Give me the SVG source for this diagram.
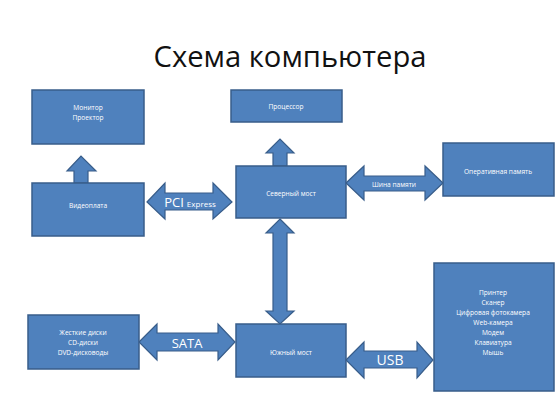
<svg xmlns="http://www.w3.org/2000/svg" width="560" height="420" viewBox="0 0 560 420">
<style>
.box{fill:#4F81BD;stroke:#385D8A;stroke-width:1.5}
.arr{fill:#4F81BD;stroke:#385D8A;stroke-width:1.2;stroke-linejoin:miter}
.t{fill:#fff;font-family:"Open Sans","Noto Sans","Liberation Sans",sans-serif;font-size:6.6px;text-anchor:middle}
.big{fill:#fff;font-family:"Open Sans","Noto Sans","Liberation Sans",sans-serif;text-anchor:middle}
.title{fill:#111;font-family:"Open Sans","Noto Sans","Liberation Sans",sans-serif;font-size:30px;text-anchor:middle}
</style>
<rect width="560" height="420" fill="#fff"/>
<text class="title" x="290" y="67" textLength="273" lengthAdjust="spacingAndGlyphs">Схема компьютера</text>

<g id="connectors">
<polygon class="arr" points="74,183 74,171 67,171 81,156 96,171 88,171 88,183"/>
<polygon class="arr" points="273,166 273,153 266,153 280,139 294,153 287,153 287,166"/>
<polygon class="arr" points="280,219 294,233 287,233 287,311 294,311 280,324 266,311 273,311 273,233 266,233"/>
<polygon class="arr" points="147,202 165,183 165,193 213,193 213,183 232,202 213,219 213,210 165,210 165,219"/>
<polygon class="arr" points="346,183 364,166 364,176 425,176 425,166 443,183 425,200 425,191 364,191 364,200"/>
<polygon class="arr" points="139,342 157,324 157,333 218,333 218,324 235,342 218,360 218,351 157,351 157,360"/>
<polygon class="arr" points="346,360 364,342 364,351 417,351 417,342 433,360 417,378 417,368 364,368 364,378"/>
<text class="big" x="190" y="206.5"><tspan font-size="13">PCI</tspan><tspan font-size="8" dx="3">Express</tspan></text>
<text class="t" x="394" y="186.5">Шина памяти</text>
<text class="big" x="187" y="347.5" font-size="13">SATA</text>
<text class="big" x="390" y="365" font-size="14">USB</text>
</g>

<g id="monitor">
<rect class="box" x="32" y="90" width="112" height="54"/>
<text class="t" x="88" y="109.5">Монитор</text>
<text class="t" x="88" y="119.5">Проектор</text>
</g>
<g id="videocard">
<rect class="box" x="32" y="183" width="112" height="53"/>
<text class="t" x="88" y="207.5">Видеоплата</text>
</g>
<g id="cpu">
<rect class="box" x="231" y="90" width="111" height="32"/>
<text class="t" x="286" y="109">Процессор</text>
</g>
<g id="northbridge">
<rect class="box" x="236" y="166" width="110" height="52"/>
<text class="t" x="291" y="195.5">Северный мост</text>
</g>
<g id="ram">
<rect class="box" x="443" y="143" width="111" height="53"/>
<text class="t" x="498" y="173.5">Оперативная память</text>
</g>
<g id="disks">
<rect class="box" x="28" y="315" width="111" height="54"/>
<text class="t" x="83" y="334.5">Жесткие диски</text>
<text class="t" x="83" y="344.5">CD-диски</text>
<text class="t" x="83" y="354.5">DVD-дисководы</text>
</g>
<g id="southbridge">
<rect class="box" x="236" y="324" width="110" height="53"/>
<text class="t" x="291" y="354.5">Южный мост</text>
</g>
<g id="peripherals">
<rect class="box" x="434" y="263" width="120" height="128"/>
<text class="t" x="493" y="294.5">Принтер</text>
<text class="t" x="493" y="304.5">Сканер</text>
<text class="t" x="493" y="314.5">Цифровая фотокамера</text>
<text class="t" x="493" y="324.5">Web-камера</text>
<text class="t" x="493" y="334.5">Модем</text>
<text class="t" x="493" y="344.5">Клавиатура</text>
<text class="t" x="493" y="354.5">Мышь</text>
</g>
</svg>
